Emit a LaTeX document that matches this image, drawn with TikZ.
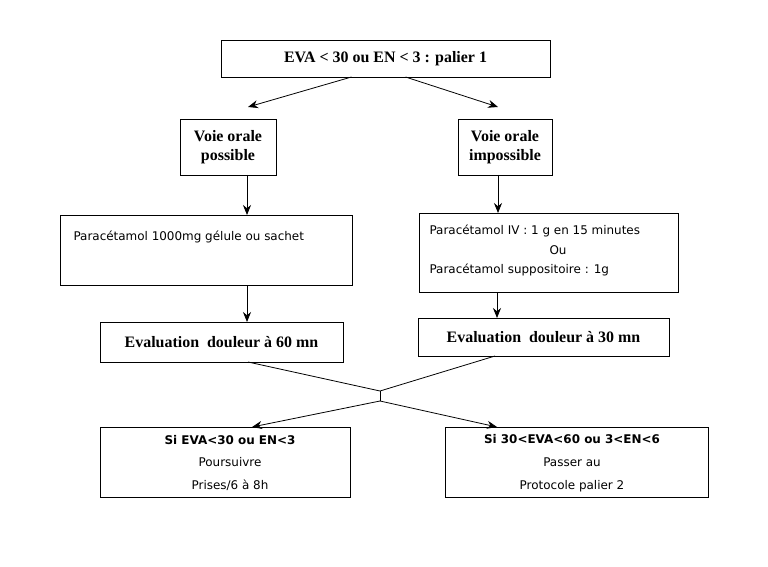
\documentclass[tikz,border=0pt]{standalone}
\usepackage{fontspec}
\setmainfont{Liberation Serif}
\newfontfamily\cfont{DejaVu Sans}
\usetikzlibrary{arrows.meta}
\begin{document}
\begin{tikzpicture}[x=1bp,y=-1bp,
  box/.style={draw,line width=0.8pt,inner sep=0pt,outer sep=0pt},
  ser/.style={font=\fontsize{16}{19}\selectfont\bfseries,align=center},
  ctext/.style={font=\cfont\fontsize{12}{20}\selectfont,align=center},
  arr/.style={line width=0.8pt,-{Stealth[length=10bp,width=8bp]}},
  ln/.style={line width=0.8pt}]
\useasboundingbox (0,0) rectangle (768,567);
\node[box,minimum width=329bp,minimum height=37bp,ser] (top) at (385.5,58.5) {EVA < 30 ou EN < 3 : palier 1};
\node[box,minimum width=96bp,minimum height=56bp,ser] (pos) at (228,147) {Voie orale\\possible};
\node[box,minimum width=94bp,minimum height=56bp,ser] (imp) at (505,147) {Voie orale\\impossible};
\node[box,minimum width=292bp,minimum height=70bp] (pl) at (206,250) {};
\node[ctext,anchor=west] (plt) at (70,237) {Paracétamol 1000mg gélule ou sachet};
\node[box,minimum width=259bp,minimum height=79bp] (pr) at (548.5,252.5) {};
\node[ctext,align=left,anchor=north west] (prt) at (426,221) {Paracétamol IV : 1 g en 15 minutes\\\hspace*{120bp}Ou\\Paracétamol suppositoire : 1g};
\node[box,minimum width=243bp,minimum height=40bp,ser] (el) at (221.5,342) {Evaluation~ douleur à 60 mn};
\node[box,minimum width=251bp,minimum height=38bp,ser] (er) at (543.5,337) {Evaluation~ douleur à 30 mn};
\node[box,minimum width=250bp,minimum height=70bp] (bl) at (225,462) {};
\node[ctext,font=\cfont\fontsize{12}{23}\selectfont] (blt) at (230,463) {\textbf{Si EVA<30 ou EN<3}\\Poursuivre\\Prises/6 à 8h};
\node[box,minimum width=263bp,minimum height=70bp] (br) at (576.5,462) {};
\node[ctext,font=\cfont\fontsize{12}{23}\selectfont] (brt) at (572,463) {\textbf{Si 30<EVA<60 ou 3<EN<6}\\Passer au\\Protocole palier 2};
\coordinate (j1) at (380,391);
\coordinate (j2) at (380,401);
\draw[arr] ([xshift=-34bp]top.south) -- (248,107);
\draw[arr] ([xshift=20bp]top.south) -- (498,107);
\draw[arr] (pos.south -| 247,0) -- (pl.north -| 247,0);
\draw[arr] (imp.south -| 498,0) -- (pr.north -| 498,0);
\draw[arr] (pl.south -| 247,0) -- (el.north -| 247,0);
\draw[arr] (pr.south -| 497,0) -- (er.north -| 497,0);
\draw[ln] (el.south -| 248,0) -- (j1) -- (er.south -| 495,0);
\draw[ln] (j1) -- (j2);
\draw[arr] (j2) -- (bl.north -| 252,0);
\draw[arr] (j2) -- (br.north -| 497,0);
\end{tikzpicture}
\end{document}
